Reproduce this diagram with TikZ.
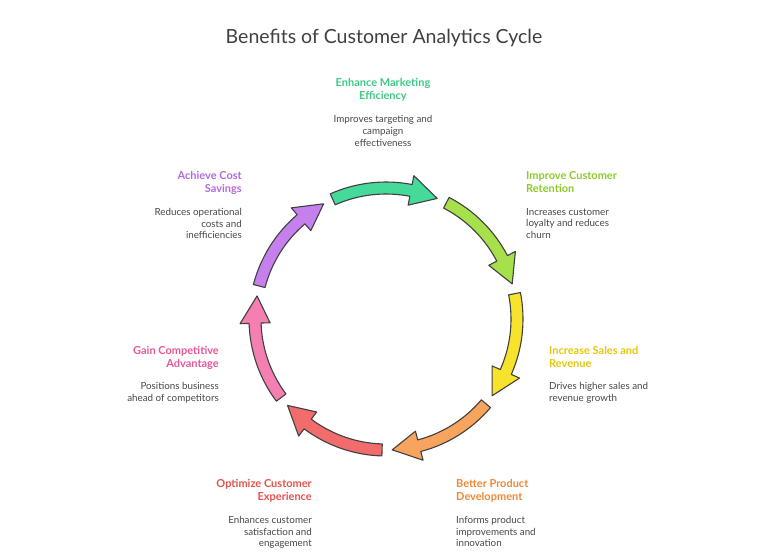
\documentclass[tikz,border=0pt]{standalone}
\usepackage{fontspec}
\setmainfont{Lato}
\begin{document}
\begin{tikzpicture}[x=1pt,y=-1pt,
  ttl/.style={font=\bfseries\fontsize{11}{13}\selectfont,inner sep=0pt},
  dsc/.style={font=\fontsize{9.8}{11.6}\selectfont,text=black!72,inner sep=0pt},
  arr/.style={draw=black!75,line width=1.1pt,line join=round}]
\useasboundingbox (0,0) rectangle (768,552);
\definecolor{c1}{HTML}{45D99A}\definecolor{c2}{HTML}{A6E04A}\definecolor{c3}{HTML}{F7E22C}
\definecolor{c4}{HTML}{F6A45E}\definecolor{c5}{HTML}{F36C6C}\definecolor{c6}{HTML}{F47FB0}
\definecolor{c7}{HTML}{C680EE}
\definecolor{t1}{HTML}{3CC985}\definecolor{t2}{HTML}{8CCB2A}\definecolor{t3}{HTML}{E5C60A}
\definecolor{t4}{HTML}{EE8836}\definecolor{t5}{HTML}{E5524C}\definecolor{t6}{HTML}{E4589A}
\definecolor{t7}{HTML}{B26ADF}
\node[font=\fontsize{19.5}{23}\selectfont,text=black!75] (title) at (384,38) {Benefits of Customer Analytics Cycle};
\begin{scope}[shift={(386,319)},yscale=-1]
\foreach \i/\c in {0/c1,1/c2,2/c3,3/c4,4/c5,5/c6,6/c7}{
  \pgfmathsetmacro\s{114-51.43*\i}
  \pgfmathsetmacro\e{\s-47}
  \pgfmathsetmacro\h{\e+12}
  \fill[\c,arr] (\s:137) arc[start angle=\s,end angle=\h,radius=137] -- (\h:146) -- (\e:131)
    -- (\h:116) -- (\h:125) arc[start angle=\h,end angle=\s,radius=125] -- cycle;
}
\end{scope}
\node[ttl,text=t1,align=center] (n1) at (383,90) {Enhance Marketing\\Efficiency};
\node[dsc,align=center] (d1) at (383,131) {Improves targeting and\\campaign\\effectiveness};
\node[ttl,text=t2,align=left,anchor=north west] (n2) at (526,171) {Improve Customer\\Retention};
\node[dsc,align=left,anchor=north west] (d2) at (526,208) {Increases customer\\loyalty and reduces\\churn};
\node[ttl,text=t3,align=left,anchor=north west] (n3) at (549,346) {Increase Sales and\\Revenue};
\node[dsc,align=left,anchor=north west] (d3) at (549,382) {Drives higher sales and\\revenue growth};
\node[ttl,text=t4,align=left,anchor=north west] (n4) at (456,479) {Better Product\\Development};
\node[dsc,align=left,anchor=north west] (d4) at (456,516) {Informs product\\improvements and\\innovation};
\node[ttl,text=t5,align=right,anchor=north east] (n5) at (312,479) {Optimize Customer\\Experience};
\node[dsc,align=right,anchor=north east] (d5) at (312,516) {Enhances customer\\satisfaction and\\engagement};
\node[ttl,text=t6,align=right,anchor=north east] (n6) at (219,346) {Gain Competitive\\Advantage};
\node[dsc,align=right,anchor=north east] (d6) at (219,382) {Positions business\\ahead of competitors};
\node[ttl,text=t7,align=right,anchor=north east] (n7) at (242,171) {Achieve Cost\\Savings};
\node[dsc,align=right,anchor=north east] (d7) at (242,208) {Reduces operational\\costs and\\inefficiencies};
\end{tikzpicture}
\end{document}
